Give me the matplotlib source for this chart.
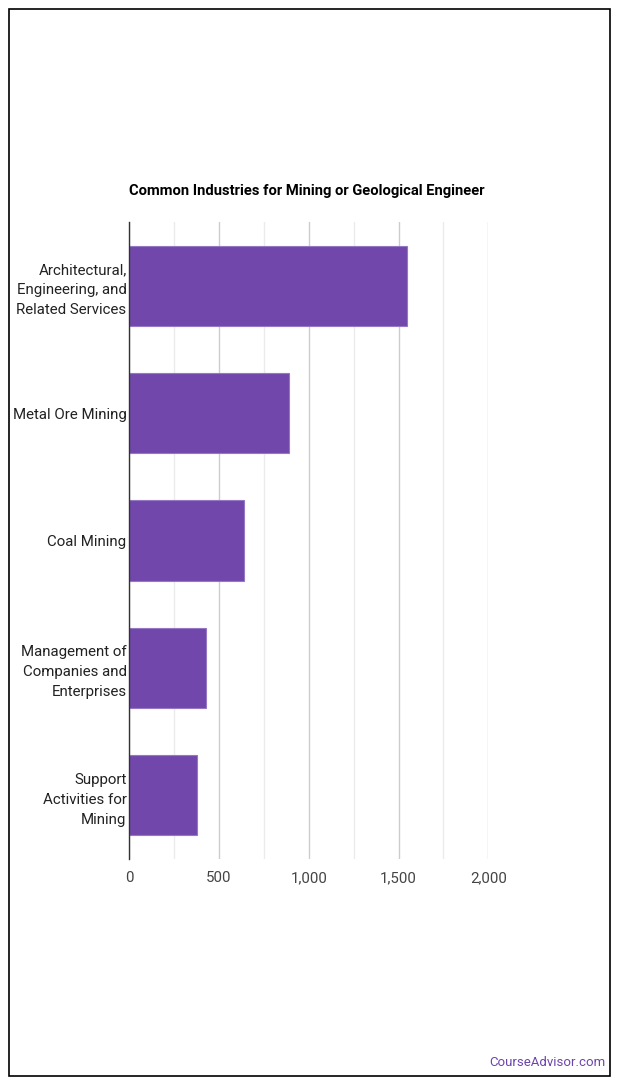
import matplotlib
matplotlib.use("Agg")
import matplotlib.pyplot as plt
from matplotlib.patches import Rectangle
from matplotlib.ticker import FuncFormatter, MultipleLocator

plt.rcParams['font.family'] = ['Roboto', 'DejaVu Sans']

# data
industries = ["Architectural,\nEngineering, and\nRelated Services",
              "Metal Ore Mining",
              "Coal Mining",
              "Management of\nCompanies and\nEnterprises",
              "Support\nActivities for\nMining"]
employment = [1545, 890, 640, 430, 378]
x_ticks = [0, 500, 1000, 1500, 2000]
title = "Common Industries for Mining or Geological Engineer"

W, H = 620, 1085
fig = plt.figure(figsize=(W / 100, H / 100), dpi=100)

# outer frame
fig.patches.append(Rectangle((9 / W, 1 - 1076 / H), 601 / W, 1067 / H,
                             transform=fig.transFigure, fill=False,
                             edgecolor='black', linewidth=1.2))

ax = fig.add_axes([129.3 / W, 1 - 859 / H, 359 / W, 637 / H])
ypos = list(range(len(industries)))
ax.barh(ypos, employment, height=0.63, color='#7247ab',
        edgecolor='#9478c4', linewidth=0.8, zorder=3)
ax.set_ylim(len(industries) - 0.5, -0.5)
ax.set_xlim(0, 2000)

ax.set_xticks(x_ticks)
ax.xaxis.set_minor_locator(MultipleLocator(250))
ax.xaxis.set_major_formatter(FuncFormatter(lambda v, p: f"{int(v):,}"))
ax.grid(axis='x', which='major', color='#cccccc', linewidth=1, zorder=0)
ax.grid(axis='x', which='minor', color='#ebebeb', linewidth=1, zorder=0)
ax.set_yticks(ypos)
ax.set_yticklabels(industries, fontsize=10.8, color='#222222', linespacing=1.55)
ax.tick_params(axis='both', which='both', length=0)
ax.tick_params(axis='y', pad=2)
ax.tick_params(axis='x', pad=9, labelsize=10.8, labelcolor='#444444')
for s in ['top', 'right', 'bottom']:
    ax.spines[s].set_visible(False)
ax.spines['left'].set_color('#333333')
ax.spines['left'].set_linewidth(1)
ax.spines['left'].set_zorder(4)

fig.text(307 / W, 1 - 191 / H, title, ha='center', va='center',
         fontsize=10.6, fontweight='bold', color='black')
fig.text(605 / W, 1 - 1063 / H, "CourseAdvisor.com", ha='right', va='center',
         fontsize=9.5, color='#6d44ad')

fig.savefig("out.png", dpi=100)
